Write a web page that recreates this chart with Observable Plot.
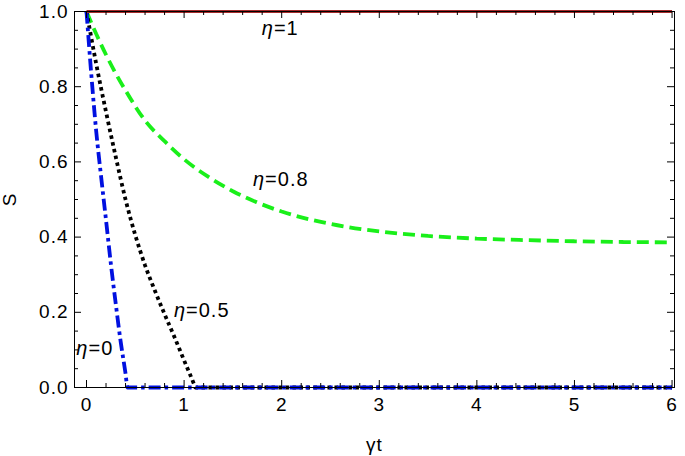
<!DOCTYPE html>
<html>
<head>
<meta charset="utf-8">
<script src="https://cdn.jsdelivr.net/npm/d3@7"></script>
<script src="https://cdn.jsdelivr.net/npm/@observablehq/plot@0.6"></script>
<style>
  html, body { margin: 0; padding: 0; background: #fff; }
  #chart { width: 685px; height: 456px; }
  #chart svg text { letter-spacing: 1px; }
</style>
</head>
<body>
<div id="chart"></div>
<script>
// ---- data ----
const eta1_t = [0, 6];
const eta1_S = [1, 1];

const eta08_t = [0, 0.1, 0.2, 0.3, 0.4, 0.6, 0.8, 1.0, 1.25, 1.5, 1.75, 2.0, 2.5, 3.0, 3.5, 4.0, 4.5, 5.0, 5.5, 6.0];
const eta08_S = [1, 0.94, 0.885, 0.835, 0.79, 0.71, 0.655, 0.607, 0.56, 0.522, 0.492, 0.468, 0.435, 0.415, 0.403, 0.396, 0.392, 0.389, 0.387, 0.386];

const eta05_t = [0, 0.1, 0.2, 0.3, 0.4, 0.5, 0.6, 0.7, 0.8, 0.9, 1.0, 1.1, 1.115, 6];
const eta05_S = [1, 0.86, 0.733, 0.613, 0.5, 0.405, 0.325, 0.258, 0.195, 0.135, 0.072, 0.01, 0, 0];

const eta0_t = [0, 0.05, 0.1, 0.15, 0.2, 0.25, 0.3, 0.35, 0.4, 0.42, 6];
const eta0_S = [1, 0.83, 0.68, 0.56, 0.445, 0.328, 0.222, 0.122, 0.037, 0, 0];

const xMajor = [0, 1, 2, 3, 4, 5, 6];
const xMinor = d3.range(0, 30).map(i => i * 0.2).filter(v => Math.abs(v - Math.round(v)) > 1e-6);
const yMajor = [0, 0.2, 0.4, 0.6, 0.8, 1.0];
const yMinor = d3.range(0, 21).map(i => i * 0.05).filter(v => Math.abs(v * 5 - Math.round(v * 5)) > 1e-6);

const labelNames = ["=1", "=0.8", "=0.5", "=0"];
const labelT = [1.92, 1.83, 1.02, 0.02];
const labelS = [0.954, 0.552, 0.204, 0.103];

// ---- build tables ----
const toRows = (ts, ss) => ts.map((t, i) => ({t, S: ss[i]}));
const r1 = toRows(eta1_t, eta1_S);
const r08 = toRows(eta08_t, eta08_S);
const r05 = toRows(eta05_t, eta05_S);
const r0 = toRows(eta0_t, eta0_S);
const labels = labelNames.map((n, i) => ({n, t: labelT[i], S: labelS[i]}));

const W = 685, H = 456;
const mL = 74, mR = 11, mT = 11, mB = 69;
const innerW = W - mL - mR, innerH = H - mT - mB;
const font = "'Liberation Sans', Arial, sans-serif";
const fs = 19;
const lfs = 20;
const lineOpts = {strokeLinecap: "butt", strokeLinejoin: "miter", strokeWidth: 3.8};

const chart = Plot.plot({
  width: W, height: H,
  marginLeft: mL, marginRight: mR, marginTop: mT, marginBottom: mB,
  style: {fontFamily: font, fontSize: fs + "px", background: "#fff", color: "#000"},
  x: {domain: [-0.123, 6.025]},
  y: {domain: [0, 1]},
  marks: [
    // curves
    Plot.line(r08, {x: "t", y: "S", stroke: "#1aef1a", strokeDasharray: "12,6", curve: "monotone-x", ...lineOpts}),
    Plot.line(r05, {x: "t", y: "S", stroke: "#000", strokeDasharray: "3.5,3.5", curve: "monotone-x", ...lineOpts}),
    Plot.line(r0, {x: "t", y: "S", stroke: "#0010e0", strokeDasharray: "12,4,3.5,4", curve: "monotone-x", ...lineOpts}),
    Plot.line(r1, {x: "t", y: "S", stroke: "#a52a2a", ...lineOpts, strokeWidth: 3}),
    // frame
    Plot.frame({stroke: "#000", strokeWidth: 1}),
    // inward ticks: bottom / top
    Plot.ruleX(xMajor, {x: d => d, insetTop: innerH - 7, stroke: "#000"}),
    Plot.ruleX(xMinor, {x: d => d, insetTop: innerH - 4, stroke: "#000"}),
    Plot.ruleX(xMajor, {x: d => d, insetBottom: innerH - 7, stroke: "#000"}),
    Plot.ruleX(xMinor, {x: d => d, insetBottom: innerH - 4, stroke: "#000"}),
    // inward ticks: left / right
    Plot.ruleY(yMajor, {y: d => d, insetRight: innerW - 7, stroke: "#000"}),
    Plot.ruleY(yMinor, {y: d => d, insetRight: innerW - 4, stroke: "#000"}),
    Plot.ruleY(yMajor, {y: d => d, insetLeft: innerW - 7, stroke: "#000"}),
    Plot.ruleY(yMinor, {y: d => d, insetLeft: innerW - 4, stroke: "#000"}),
    // axes (labels only)
    Plot.axisX(xMajor, {tickSize: 0, tickPadding: 10, fontSize: fs, tickFormat: d3.format("d"),
      label: "γt", labelAnchor: "center", labelOffset: 63, labelArrow: "none"}),
    Plot.axisY(yMajor, {tickSize: 0, tickPadding: 6, fontSize: fs, tickFormat: d3.format(".1f"),
      label: "S", labelAnchor: "center", labelOffset: 72, labelArrow: "none"}),
    // curve annotations
    Plot.text(labels, {x: "t", y: "S", text: () => "η", textAnchor: "end", fontStyle: "italic", fontSize: lfs, fill: "#000"}),
    Plot.text(labels, {x: "t", y: "S", text: "n", textAnchor: "start", fontSize: lfs, fill: "#000"})
  ]
});
document.getElementById("chart").appendChild(chart);
</script>
</body>
</html>
